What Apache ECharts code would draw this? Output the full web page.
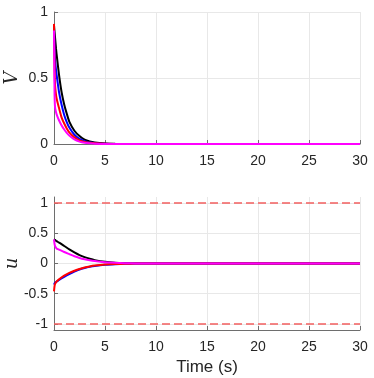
<!DOCTYPE html>
<html><head><meta charset="utf-8">
<script src="https://cdn.jsdelivr.net/npm/echarts@6/dist/echarts.min.js"></script>
<style>html,body{margin:0;padding:0;background:#fff}#c{width:374px;height:378px}</style>
</head><body><div id="c"></div>
<script>
// Top panel: V(t)
const tV = [0, 0.05, 0.1, 0.2, 0.3, 0.5, 0.75, 1, 1.25, 1.5, 2, 2.5, 3, 3.5, 4, 5, 6, 7, 8, 10, 15, 20, 25, 30];
const vBlack   = [0.90, 0.85, 0.81, 0.72, 0.65, 0.52, 0.39, 0.30, 0.23, 0.17, 0.10, 0.06, 0.033, 0.019, 0.011, 0.004, 0.001, 0, 0, 0, 0, 0, 0, 0];
const vBlue    = [0.88, 0.74, 0.64, 0.56, 0.50, 0.39, 0.295, 0.22, 0.166, 0.125, 0.07, 0.039, 0.022, 0.012, 0.007, 0.002, 0.0007, 0, 0, 0, 0, 0, 0, 0];
const vRed     = [0.91, 0.60, 0.45, 0.37, 0.33, 0.27, 0.20, 0.155, 0.118, 0.088, 0.05, 0.028, 0.016, 0.009, 0.005, 0.0015, 0.0005, 0, 0, 0, 0, 0, 0, 0];
const vMagenta = [0.86, 0.40, 0.28, 0.24, 0.215, 0.178, 0.14, 0.11, 0.085, 0.065, 0.035, 0.018, 0.009, 0.005, 0.002, 0.0005, 0, 0, 0, 0, 0, 0, 0, 0];
// Bottom panel: u(t)
const tU = [0, 0.05, 0.1, 0.25, 0.5, 1, 1.5, 2, 2.5, 3, 3.5, 4, 5, 6, 7, 8, 10, 15, 20, 25, 30];
const uBlack   = [0.40, 0.395, 0.39, 0.37, 0.345, 0.29, 0.235, 0.185, 0.14, 0.105, 0.078, 0.056, 0.028, 0.013, 0.006, 0.002, 0, 0, 0, 0, 0];
const uBlue    = [-0.35, -0.33, -0.32, -0.30, -0.27, -0.22, -0.175, -0.135, -0.10, -0.075, -0.055, -0.04, -0.021, -0.011, -0.005, -0.002, 0, 0, 0, 0, 0];
const uRed     = [-0.46, -0.38, -0.34, -0.30, -0.26, -0.20, -0.155, -0.12, -0.09, -0.066, -0.048, -0.035, -0.018, -0.009, -0.004, -0.002, 0, 0, 0, 0, 0];
const uMagenta = [0.40, 0.33, 0.29, 0.25, 0.23, 0.19, 0.155, 0.12, 0.092, 0.07, 0.053, 0.04, 0.022, 0.012, 0.006, 0.002, 0, 0, 0, 0, 0];
const uLimits = [1, -1];
const xTicks = [0, 5, 10, 15, 20, 25, 30];
const vTicks = [0, 0.5, 1];
const uTicks = [-1, -0.5, 0, 0.5, 1];

const pairs = (t, v) => t.map((x, i) => [x, v[i]]);
const axisLineStyle = {color: '#6e6e6e', width: 1};
const labelStyle = {color: '#262626', fontSize: 14, fontFamily: 'Liberation Sans, Arial, sans-serif'};
const gridLine = {show: true, lineStyle: {color: '#e8e8e8', width: 1}};

function xAx(gi, withName) {
  return {
    type: 'value', gridIndex: gi, min: 0, max: 30, interval: 5,
    axisLine: {show: true, onZero: false, lineStyle: axisLineStyle},
    axisTick: {show: true, inside: true, length: 4, lineStyle: axisLineStyle, customValues: xTicks},
    axisLabel: Object.assign({margin: 10, customValues: xTicks}, labelStyle),
    splitLine: gridLine,
    name: withName ? 'Time (s)' : '',
    nameLocation: 'middle', nameGap: 29, nameMoveOverlap: false,
    nameTextStyle: {color: '#262626', fontSize: 17, fontFamily: 'Liberation Sans, Arial, sans-serif'}
  };
}
function lineSeries(xi, data, color) {
  return {type: 'line', xAxisIndex: xi, yAxisIndex: xi, data: data, showSymbol: false, symbol: 'none',
    smooth: 0.2, lineStyle: {color: color, width: 2}, itemStyle: {color: color}, animation: false};
}
const yNameStyle = {color: '#262626', fontSize: 18, fontStyle: 'italic', fontFamily: 'DejaVu Serif, serif'};

const chart = echarts.init(document.getElementById('c'), null, {renderer: 'canvas'});
chart.setOption({
  animation: false,
  grid: [
    {left: 54, top: 12, width: 306, height: 132, containLabel: false, outerBoundsMode: 'none'},
    {left: 54, top: 197, width: 306, height: 133, containLabel: false, outerBoundsMode: 'none'}
  ],
  xAxis: [xAx(0, false), xAx(1, true)],
  yAxis: [
    {type: 'value', gridIndex: 0, min: 0, max: 1, interval: 0.5,
     axisLine: {show: true, lineStyle: axisLineStyle},
     axisTick: {show: true, inside: true, length: 4, lineStyle: axisLineStyle, customValues: vTicks},
     axisLabel: Object.assign({margin: 6, customValues: vTicks}, labelStyle),
     splitLine: gridLine,
     name: 'V', nameLocation: 'middle', nameGap: 33, nameRotate: 90, nameMoveOverlap: false,
     nameTextStyle: yNameStyle},
    {type: 'value', gridIndex: 1, min: -1.1, max: 1.1,
     axisLine: {show: true, lineStyle: axisLineStyle},
     axisTick: {show: true, inside: true, length: 4, lineStyle: axisLineStyle, customValues: uTicks},
     axisLabel: Object.assign({margin: 6, customValues: uTicks, formatter: v => String(v)}, labelStyle),
     splitLine: gridLine,
     name: 'u', nameLocation: 'middle', nameGap: 33, nameRotate: 90, nameMoveOverlap: false,
     nameTextStyle: yNameStyle}
  ],
  series: [
    lineSeries(0, pairs(tV, vBlack), '#000000'),
    lineSeries(0, pairs(tV, vBlue), '#0000ff'),
    lineSeries(0, pairs(tV, vRed), '#ff0000'),
    lineSeries(0, pairs(tV, vMagenta), '#ff00ff'),
    {type: 'line', xAxisIndex: 1, yAxisIndex: 1, data: [], showSymbol: false,
     markLine: {silent: true, symbol: 'none', label: {show: false},
       lineStyle: {color: '#f25f5f', type: [8, 4], width: 1.5},
       data: uLimits.map(v => ({yAxis: v}))}},
    lineSeries(1, pairs(tU, uBlack), '#000000'),
    lineSeries(1, pairs(tU, uBlue), '#0000ff'),
    lineSeries(1, pairs(tU, uRed), '#ff0000'),
    lineSeries(1, pairs(tU, uMagenta), '#ff00ff')
  ]
});
</script></body></html>
